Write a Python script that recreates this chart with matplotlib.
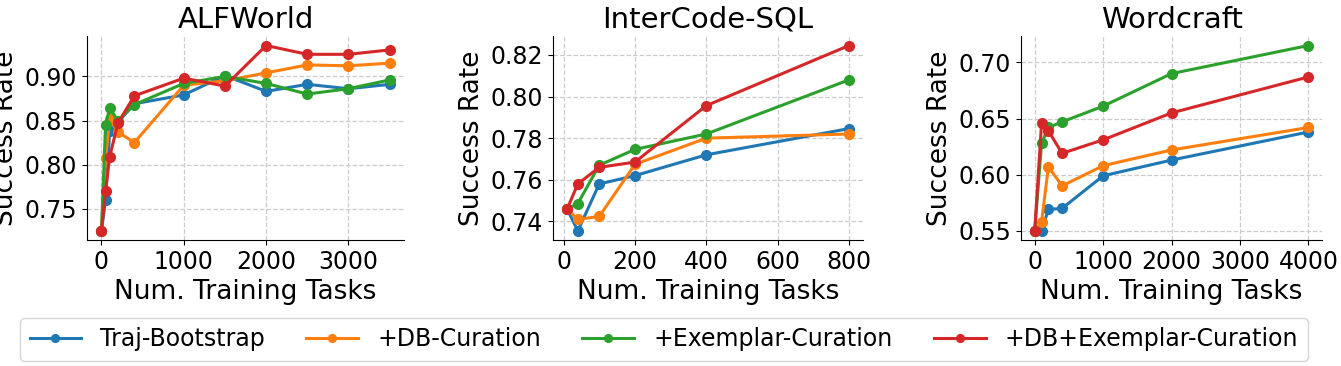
import matplotlib.pyplot as plt

# --- DATA ---
METHODS = ['Traj-Bootstrap', '+DB-Curation', '+Exemplar-Curation', '+DB+Exemplar-Curation']
COLORS = ['#1f77b4', '#ff7f0e', '#2ca02c', '#d62728']

alf_x = [0, 50, 100, 200, 400, 1000, 1500, 2000, 2500, 3000, 3500]
alf_traj = [0.725, 0.760, 0.838, 0.848, 0.869, 0.879, 0.901, 0.883, 0.891, 0.886, 0.891]
alf_db = [0.725, 0.807, 0.852, 0.837, 0.825, 0.890, 0.895, 0.904, 0.913, 0.912, 0.915]
alf_ex = [0.725, 0.845, 0.864, 0.850, 0.868, 0.892, 0.900, 0.892, 0.880, 0.886, 0.896]
alf_both = [0.725, 0.770, 0.809, 0.847, 0.878, 0.898, 0.889, 0.935, 0.925, 0.925, 0.930]
alf_xticks = [0, 1000, 2000, 3000]
alf_yticks = [0.75, 0.80, 0.85, 0.90]

sql_x = [10, 40, 100, 200, 400, 800]
sql_traj = [0.746, 0.7355, 0.758, 0.762, 0.772, 0.7846]
sql_db = [0.746, 0.741, 0.7424, 0.7674, 0.780, 0.782]
sql_ex = [0.746, 0.7486, 0.767, 0.7746, 0.782, 0.808]
sql_both = [0.746, 0.758, 0.766, 0.7685, 0.7956, 0.8245]
sql_xticks = [0, 200, 400, 600, 800]
sql_yticks = [0.74, 0.76, 0.78, 0.80, 0.82]

wc_x = [0, 100, 200, 400, 1000, 2000, 4000]
wc_traj = [0.550, 0.550, 0.569, 0.570, 0.599, 0.613, 0.638]
wc_db = [0.550, 0.558, 0.607, 0.590, 0.608, 0.622, 0.642]
wc_ex = [0.550, 0.628, 0.642, 0.647, 0.661, 0.690, 0.715]
wc_both = [0.550, 0.646, 0.639, 0.619, 0.631, 0.655, 0.687]
wc_xticks = [0, 1000, 2000, 3000, 4000]
wc_yticks = [0.55, 0.60, 0.65, 0.70]

panels = [
    ("ALFWorld", alf_x, [alf_traj, alf_db, alf_ex, alf_both], alf_xticks, alf_yticks),
    ("InterCode-SQL", sql_x, [sql_traj, sql_db, sql_ex, sql_both], sql_xticks, sql_yticks),
    ("Wordcraft", wc_x, [wc_traj, wc_db, wc_ex, wc_both], wc_xticks, wc_yticks),
]

# --- PLOTTING ---
fig = plt.figure(figsize=(13.41, 3.66), dpi=100)
positions = [
    [0.0649, 0.344, 0.2364, 0.557],
    [0.4124, 0.344, 0.2312, 0.557],
    [0.7614, 0.344, 0.2245, 0.557],
]

handles = []
for pos, (title, xs, series, xticks, yticks) in zip(positions, panels):
    ax = fig.add_axes(pos)
    for name, color, ys in zip(METHODS, COLORS, series):
        h, = ax.plot(xs, ys, marker='o', color=color, linewidth=2.2,
                     markersize=7, label=name)
        if title == "ALFWorld":
            handles.append(h)
    ax.set_title(title, fontsize=21)
    ax.set_xlabel("Num. Training Tasks", fontsize=19)
    ax.set_ylabel("Success Rate", fontsize=19)
    ax.set_xticks(xticks)
    ax.set_yticks(yticks)
    ax.set_yticklabels(["{:.2f}".format(v) for v in yticks])
    ax.tick_params(labelsize=17)
    ax.grid(True, linestyle='--', color='#cccccc', linewidth=0.9)
    ax.spines['top'].set_visible(False)
    ax.spines['right'].set_visible(False)

fig.legend(handles=handles, labels=METHODS, loc='lower center', ncol=4,
           bbox_to_anchor=(0.495, 0.014), borderaxespad=0, fontsize=17,
           markerscale=0.8, columnspacing=1.75, handlelength=2.2)

fig.savefig('out.png', dpi=100)
